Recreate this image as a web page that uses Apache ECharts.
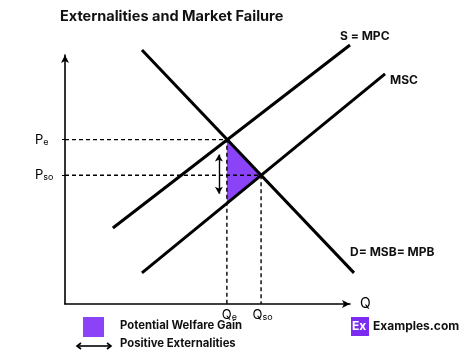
<!DOCTYPE html>
<html><head><meta charset="utf-8">
<script src="https://cdn.jsdelivr.net/npm/echarts@6/dist/echarts.min.js"></script>
<style>html,body{margin:0;padding:0;background:#fff}#c{width:474px;height:355px}</style>
</head><body><div id="c"></div>
<script>
// Curves (quantity, price) in abstract units
var demandCurve = [[2.70, 10.20], [10.14, 1.25]];   // D = MSB = MPB
var supplyCurve = [[1.68, 3.05], [10.00, 10.40]];   // S = MPC
var mscCurve    = [[2.70, 1.25], [11.23, 9.24]];    // MSC
var equilibrium = [5.68, 6.60];                     // (Qe, Pe)
var socialOpt   = [6.88, 5.17];                     // (Qso, Pso)
var welfareGain = [[5.68, 6.60], [6.88, 5.17], [5.68, 4.07]];
var externalityArrow = [[5.40, 6.00], [5.40, 4.43]];
var yTickLabels = ['P{s|e}', 'P{s|so}'];
var xTickLabels = ['{pe|}Q{s|e}', '{pso|}Q{s|so}'];

var FONT = 'Inter';
var PURPLE = '#8B43F7';
var chart = echarts.init(document.getElementById('c'));
var curves = [demandCurve, supplyCurve, mscCurve];
var dashStyle = { color: '#000', width: 1.4, type: [4, 3] };
function dashSeries(data) {
  return { type: 'line', data: data, symbol: 'none', silent: true, lineStyle: dashStyle, z: 3 };
}
chart.setOption({
  animation: false,
  grid: { left: 65, top: 55, width: 285, height: 249 },
  xAxis: {
    type: 'value', min: 0, max: 10, splitLine: { show: false },
    name: 'Q', nameLocation: 'end', nameGap: 10,
    nameTextStyle: { fontFamily: FONT, fontSize: 14, color: '#000', verticalAlign: 'middle', padding: [2, 0, 0, 0] },
    axisLine: { lineStyle: { color: '#000', width: 1.6 }, symbol: ['none', 'arrow'], symbolSize: [6, 8] },
    axisTick: { show: false },
    axisLabel: {
      customValues: [equilibrium[0], socialOpt[0]], margin: 4, color: '#000',
      fontFamily: FONT, fontSize: 13,
      formatter: function (v) { return v === equilibrium[0] ? xTickLabels[0] : xTickLabels[1]; },
      rich: {
        s: { fontFamily: FONT, fontSize: 9, color: '#000', padding: [5, 0, 0, 0] },
        pe: { width: 5 }, pso: { width: 3 }
      }
    }
  },
  yAxis: {
    type: 'value', min: 0, max: 10, splitLine: { show: false },
    axisLine: { lineStyle: { color: '#000', width: 1.6 }, symbol: ['none', 'arrow'], symbolSize: [6, 8] },
    axisTick: { customValues: [equilibrium[1], socialOpt[1]], length: 3, lineStyle: { color: '#000' } },
    axisLabel: {
      customValues: [equilibrium[1], socialOpt[1]], margin: 30, align: 'left', color: '#000',
      fontFamily: FONT, fontSize: 13,
      formatter: function (v) { return v === equilibrium[1] ? yTickLabels[0] : yTickLabels[1]; },
      rich: { s: { fontFamily: FONT, fontSize: 9, color: '#000', padding: [5, 0, 0, 0] } }
    }
  },
  series: [
    {
      type: 'custom', silent: true, z: 2, clip: false,
      renderItem: function (params, api) {
        return { type: 'polygon', shape: { points: welfareGain.map(function (p) { return api.coord(p); }) },
          style: { fill: PURPLE } };
      },
      data: [0]
    },
    dashSeries([[0, equilibrium[1]], equilibrium, [equilibrium[0], 0]]),
    dashSeries([[0, socialOpt[1]], socialOpt, [socialOpt[0], 0]]),
    {
      type: 'custom', silent: true, z: 4, clip: false,
      renderItem: function (params, api) {
        var c = curves[params.dataIndex];
        return { type: 'polyline', shape: { points: c.map(function (p) { return api.coord(p); }) },
          style: { stroke: '#000', lineWidth: 3, fill: null } };
      },
      data: [0, 1, 2]
    },
    {
      type: 'line', data: [], silent: true,
      markLine: {
        silent: true, symbol: ['arrow', 'arrow'], symbolSize: [6, 7],
        lineStyle: { color: '#000', width: 1.4, type: 'solid' }, label: { show: false },
        data: [[{ coord: externalityArrow[0] }, { coord: externalityArrow[1] }]]
      }
    }
  ],
  graphic: [
    { type: 'text', left: 60, top: 9, style: { text: 'Externalities and Market Failure', font: 'bold 14.5px ' + FONT, fill: '#111' } },
    { type: 'text', left: 340, top: 30, style: { text: 'S = MPC', font: 'bold 12px ' + FONT, fill: '#111' } },
    { type: 'text', left: 390, top: 74, style: { text: 'MSC', font: 'bold 12px ' + FONT, fill: '#111' } },
    { type: 'text', left: 350, top: 246, style: { text: 'D= MSB= MPB', font: 'bold 12px ' + FONT, fill: '#111' } },
    { type: 'rect', shape: { x: 83, y: 317, width: 21, height: 20 }, style: { fill: PURPLE } },
    { type: 'text', left: 120, top: 320, style: { text: 'Potential Welfare Gain', font: 'bold 11.3px ' + FONT, fill: '#111' } },
    { type: 'line', shape: { x1: 78, y1: 346, x2: 110, y2: 346 }, style: { stroke: '#000', lineWidth: 1.6 } },
    { type: 'polyline', shape: { points: [[81, 343], [77, 346], [81, 349]] }, style: { stroke: '#000', lineWidth: 1.6, fill: null } },
    { type: 'polyline', shape: { points: [[107, 343], [111, 346], [107, 349]] }, style: { stroke: '#000', lineWidth: 1.6, fill: null } },
    { type: 'text', left: 120, top: 338, style: { text: 'Positive Externalities', font: 'bold 11.3px ' + FONT, fill: '#111' } },
    { type: 'rect', shape: { x: 351, y: 317, width: 18, height: 19 }, style: { fill: '#7B2CF0' } },
    { type: 'text', left: 352, top: 320, style: { text: 'Ex', font: 'bold 12px ' + FONT, fill: '#fff' } },
    { type: 'text', left: 373, top: 320, style: { text: 'Examples.com', font: 'bold 12px ' + FONT, fill: '#111' } }
  ]
});
</script></body></html>
